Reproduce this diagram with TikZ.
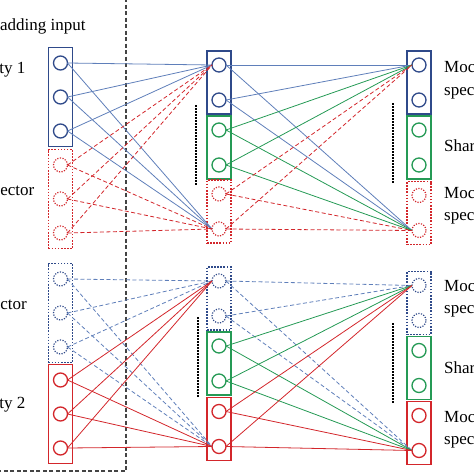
\documentclass[tikz,border=0pt]{standalone}
\usepackage{fontspec}
\setmainfont{Liberation Serif}
\usetikzlibrary{positioning, fit}

\definecolor{modblue}{HTML}{2F4A8A}
\definecolor{lineblue}{HTML}{5F7FBA}
\definecolor{modred}{HTML}{D3262B}
\definecolor{modgreen}{HTML}{259A55}
\definecolor{framegray}{HTML}{444444}

\begin{document}
\begin{tikzpicture}[x=1pt, y=-1pt,
    node distance=20pt,
    unit/.style={circle, draw, minimum size=14pt, inner sep=0pt, outer sep=0pt, line width=1.3pt},
    dunit/.style={unit, line width=1.2pt, dash pattern=on 1.2pt off 1.4pt},
    layer/.style={rectangle, draw, line width=1.8pt, inner xsep=5pt, inner ysep=7pt},
    dlayer/.style={layer, line width=1.6pt, dash pattern=on 1.6pt off 1.5pt},
    link/.style={line width=0.8pt},
    dlink/.style={link, dash pattern=on 4pt off 2.5pt},
    lbl/.style={inner sep=0pt, font=\fontsize{17}{20}\selectfont},
    more/.style={line width=1.6pt, dash pattern=on 1.5pt off 1.5pt}
    ]
    \useasboundingbox (0,0) rectangle (474,474);

    % Input column
    \node (in_a1) [unit, modblue] at (60.5,63) {};
    \node (in_a2) [unit, modblue, below=of in_a1] {};
    \node (in_a3) [unit, modblue, below=of in_a2] {};
    \node (in_a) [layer, modblue, inner ysep=8.5pt, fit=(in_a1)(in_a3)] {};
    \node (in_b1) [dunit, modred] at (60.5,165) {};
    \node (in_b2) [dunit, modred, below=of in_b1] {};
    \node (in_b3) [dunit, modred, below=of in_b2] {};
    \node (in_b) [dlayer, modred, inner ysep=8.5pt, fit=(in_b1)(in_b3)] {};
    \node (in_c1) [dunit, modblue] at (60.5,279) {};
    \node (in_c2) [dunit, modblue, below=of in_c1] {};
    \node (in_c3) [dunit, modblue, below=of in_c2] {};
    \node (in_c) [dlayer, modblue, inner ysep=8.5pt, fit=(in_c1)(in_c3)] {};
    \node (in_d1) [unit, modred] at (60.5,380) {};
    \node (in_d2) [unit, modred, below=of in_d1] {};
    \node (in_d3) [unit, modred, below=of in_d2] {};
    \node (in_d) [layer, modred, inner ysep=8.5pt, fit=(in_d1)(in_d3)] {};

    % Hidden column
    \node (hid_a1) [unit, modblue] at (219,65) {};
    \node (hid_a2) [unit, modblue, below=21pt of hid_a1] {};
    \node (hid_a) [layer, modblue, fit=(hid_a1)(hid_a2)] {};
    \node (hid_b1) [unit, modgreen] at (219,130) {};
    \node (hid_b2) [unit, modgreen, below=21pt of hid_b1] {};
    \node (hid_b) [layer, modgreen, fit=(hid_b1)(hid_b2)] {};
    \node (hid_c1) [dunit, modred] at (219,194) {};
    \node (hid_c2) [dunit, modred, below=21pt of hid_c1] {};
    \node (hid_c) [dlayer, modred, fit=(hid_c1)(hid_c2)] {};
    \node (hid_d1) [dunit, modblue] at (219,281) {};
    \node (hid_d2) [dunit, modblue, below=21pt of hid_d1] {};
    \node (hid_d) [dlayer, modblue, fit=(hid_d1)(hid_d2)] {};
    \node (hid_e1) [unit, modgreen] at (219,346) {};
    \node (hid_e2) [unit, modgreen, below=21pt of hid_e1] {};
    \node (hid_e) [layer, modgreen, fit=(hid_e1)(hid_e2)] {};
    \node (hid_f1) [unit, modred] at (219,411.5) {};
    \node (hid_f2) [unit, modred, below=21pt of hid_f1] {};
    \node (hid_f) [layer, modred, fit=(hid_f1)(hid_f2)] {};

    % Output column
    \node (out_a1) [unit, modblue] at (419,65) {};
    \node (out_a2) [unit, modblue, below=21pt of out_a1] {};
    \node (out_a) [layer, modblue, fit=(out_a1)(out_a2)] {};
    \node (out_b1) [unit, modgreen] at (419,130) {};
    \node (out_b2) [unit, modgreen, below=21pt of out_b1] {};
    \node (out_b) [layer, modgreen, fit=(out_b1)(out_b2)] {};
    \node (out_c1) [dunit, modred] at (419,195.5) {};
    \node (out_c2) [dunit, modred, below=21pt of out_c1] {};
    \node (out_c) [dlayer, modred, fit=(out_c1)(out_c2)] {};
    \node (out_d1) [dunit, modblue] at (419,285.5) {};
    \node (out_d2) [dunit, modblue, below=21pt of out_d1] {};
    \node (out_d) [dlayer, modblue, fit=(out_d1)(out_d2)] {};
    \node (out_e1) [unit, modgreen] at (419,350.5) {};
    \node (out_e2) [unit, modgreen, below=21pt of out_e1] {};
    \node (out_e) [layer, modgreen, fit=(out_e1)(out_e2)] {};
    \node (out_f1) [unit, modred] at (419,415.5) {};
    \node (out_f2) [unit, modred, below=21pt of out_f1] {};
    \node (out_f) [layer, modred, fit=(out_f1)(out_f2)] {};

    % Vertical dots and input frame
    \draw [more] (196,105) -- (196,185);
    \draw [more] (198,317) -- (198,397);
    \draw [more] (393,103) -- (393,184);
    \draw [more] (393,323) -- (393,403);
    \draw [framegray, line width=1.6pt, dash pattern=on 4pt off 2.5pt] (126,-2) -- (126,471) -- (-2,471);

    % Links - upper half
    \foreach \src in {in_a1,in_a2,in_a3}
        \foreach \dst in {hid_a1,hid_c2}
            \draw [link, lineblue] (\src.east) -- (\dst.west);
    \foreach \src in {in_b1,in_b2,in_b3}
        \foreach \dst in {hid_a1,hid_c2}
            \draw [dlink, modred] (\src.east) -- (\dst.west);
    \foreach \src in {hid_a1,hid_a2}
        \foreach \dst in {out_a1,out_c2}
            \draw [link, lineblue] (\src.east) -- (\dst.west);
    \foreach \src in {hid_b1,hid_b2}
        \foreach \dst in {out_a1,out_c2}
            \draw [link, modgreen] (\src.east) -- (\dst.west);
    \foreach \src in {hid_c1,hid_c2}
        \foreach \dst in {out_a1,out_c2}
            \draw [dlink, modred] (\src.east) -- (\dst.west);

    % Links - lower half
    \foreach \src in {in_c1,in_c2,in_c3}
        \foreach \dst in {hid_d1,hid_f2}
            \draw [dlink, lineblue] (\src.east) -- (\dst.west);
    \foreach \src in {in_d1,in_d2,in_d3}
        \foreach \dst in {hid_d1,hid_f2}
            \draw [link, modred] (\src.east) -- (\dst.west);
    \foreach \src in {hid_d1,hid_d2}
        \foreach \dst in {out_d1,out_f2}
            \draw [dlink, lineblue] (\src.east) -- (\dst.west);
    \foreach \src in {hid_e1,hid_e2}
        \foreach \dst in {out_d1,out_f2}
            \draw [link, modgreen] (\src.east) -- (\dst.west);
    \foreach \src in {hid_f1,hid_f2}
        \foreach \dst in {out_d1,out_f2}
            \draw [link, modred] (\src.east) -- (\dst.west);

    % Labels
    \node (emb_lbl) [lbl, anchor=base west] at (0,30) {adding input};
    \node (in_a_lbl) [lbl, anchor=base east] at (25.5,73) {ty 1};
    \node (in_b_lbl) [lbl, anchor=base east] at (34.5,195) {ector};
    \node (in_c_lbl) [lbl, anchor=base east] at (27,309) {ctor};
    \node (in_d_lbl) [lbl, anchor=base east] at (25.5,408) {ty 2};
    \node (out_a_lbl) [lbl, anchor=base west] at (444,72) {Moc};
    \node (out_a_lbl2) [lbl, anchor=base west] at (444,95) {spec};
    \node (out_b_lbl) [lbl, anchor=base west] at (444,151) {Shar};
    \node (out_c_lbl) [lbl, anchor=base west] at (444,198) {Moc};
    \node (out_c_lbl2) [lbl, anchor=base west] at (444,220) {spec};
    \node (out_d_lbl) [lbl, anchor=base west] at (444,291) {Moc};
    \node (out_d_lbl2) [lbl, anchor=base west] at (444,313) {spec};
    \node (out_e_lbl) [lbl, anchor=base west] at (444,373) {Shar};
    \node (out_f_lbl) [lbl, anchor=base west] at (444,422) {Moc};
    \node (out_f_lbl2) [lbl, anchor=base west] at (444,444) {spec};

\end{tikzpicture}
\end{document}
